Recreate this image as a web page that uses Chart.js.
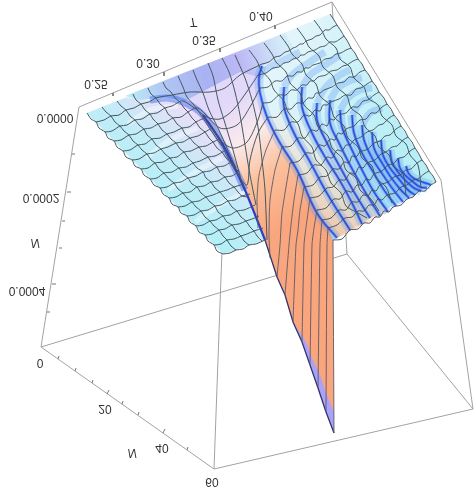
<!DOCTYPE html>
<html lang="en">
  <head>
    <meta charset="UTF-8" />
    <title>Surface plot</title>
    <script src="https://cdn.jsdelivr.net/npm/chart.js"></script>
    <style>
      html, body { margin: 0; padding: 0; background: #fff; }
      canvas { display: block; filter: blur(0.45px); }
    </style>
  </head>
  <body>
    <canvas id="chart" width="474" height="490"></canvas>
    <script>
      const boxEdges = [
        [332, 2, 347, 254], [222, 250, 214, 469], [41, 347, 347, 254], [347, 254, 473, 409],
        [214, 469, 473, 409], [441, 180, 473, 409], [79, 107, 332, 2], [332, 2, 441, 180],
        [79, 107, 41, 347], [41, 347, 214, 469],
      ];
      const axisTicks = [
        [58, 359, 59, 356], [75, 371, 76, 368], [92, 383, 93, 380], [107, 394, 109, 390], [122, 404, 123, 401],
        [138, 415, 139, 412], [163, 433, 165, 429], [187, 450, 188, 447],
        [72, 154, 75, 154], [67, 192, 71, 192], [62, 221, 65, 221], [59, 248, 62, 248], [52, 284, 56, 284], [47, 312, 50, 312],
        [113, 93, 113, 96], [164, 72, 164, 76], [220, 48, 220, 52], [275, 25, 275, 29],
      ];

      const labelTexts = ["0.25", "0.30", "0.35", "0.40", "T", "0.0000", "0.0002", "0.0004", "N", "0", "20", "40", "60", "N"];
      const labelXs = [96, 148, 204, 261, 193, 55, 41, 27, 35, 40, 105, 162, 212, 132];
      const labelYs = [83, 62, 39, 15, 21, 117, 197, 290, 242, 362, 408, 447, 481, 452];

      const surfaceOutline = [87, 113, 330, 14, 436, 182, 345, 232, 333, 240, 265, 240, 223, 254];
      const leftPlate = [87, 113, 223, 254, 265, 240, 245, 190, 222, 143, 203, 115, 183, 102, 150, 100, 125, 98];
      const backBand = [125, 96, 285, 33, 295, 50, 262, 66, 258, 76, 250, 95, 235, 110, 215, 115, 195, 103, 165, 97, 140, 100];
      const wall = [183, 102, 203, 115, 222, 143, 245, 190, 265, 240, 277, 277, 285, 295, 293, 322, 302, 342, 310, 365, 318, 388, 326, 412, 334, 433, 333, 240, 328, 228, 317, 213, 297, 170, 280, 143, 267, 117, 260, 93, 259, 77, 240, 72, 215, 85];
      const wallFoot = [293, 322, 302, 342, 310, 365, 318, 388, 326, 412, 334, 433, 334, 412, 326, 393, 320, 375, 312, 358, 306, 342];
      const creamPatch = [280, 143, 297, 170, 317, 213, 337, 238, 388, 212, 364, 187, 350, 165, 339, 143, 330, 123, 317, 120, 284, 107, 267, 117];
      const plateGlints = [
        [128, 124, 150, 110, 178, 106],
        [146, 158, 170, 140, 198, 128],
        [168, 190, 195, 172, 222, 158],
        [195, 222, 220, 205, 245, 192],
      ];

      const cliffLine = [150, 100, 167, 98, 183, 102, 203, 115, 222, 143, 245, 190, 265, 240, 277, 277, 285, 295, 293, 322, 302, 342, 310, 365, 318, 388, 326, 412, 334, 433];

      const crests = [
        [262, 66, 259, 77, 260, 93, 267, 117, 280, 143, 297, 170, 317, 213, 337, 238],
        [284, 87, 284, 107, 294, 133, 309, 160, 328, 195, 350, 230],
        [302, 87, 302, 107, 312, 133, 325, 157, 340, 181, 352, 203, 362, 224],
        [317, 103, 317, 120, 327, 143, 340, 167, 354, 192, 370, 218],
        [330, 100, 330, 123, 339, 143, 350, 165, 364, 190, 380, 216],
        [340, 110, 342, 127, 352, 150, 362, 170, 374, 192, 388, 212],
        [352, 115, 354, 133, 362, 153, 372, 170, 384, 190, 396, 206],
        [362, 125, 364, 140, 372, 158, 381, 172, 392, 188, 403, 202],
        [372, 132, 374, 148, 382, 163, 390, 176, 400, 189, 409, 198],
        [381, 140, 383, 155, 390, 168, 398, 178, 408, 190, 415, 195],
        [390, 150, 392, 162, 398, 172, 405, 180, 414, 188, 421, 191],
        [398, 158, 400, 168, 406, 176, 412, 181, 420, 187, 427, 188],
        [406, 166, 409, 174, 415, 179, 431, 185],
      ];
      const crestCurls = [
        [259, 77, 265, 70, 280, 62, 300, 52],
        [284, 87, 292, 75, 308, 63, 325, 52],
        [302, 87, 310, 75, 325, 65, 340, 55],
        [317, 103, 325, 88, 340, 75, 350, 70],
        [330, 100, 338, 88, 352, 80, 362, 78],
        [340, 110, 348, 98, 360, 90, 372, 88],
        [352, 115, 360, 103, 372, 98],
        [362, 125, 370, 113, 382, 108],
      ];

      // lines of constant N, from the left edge up to the cliff
      const sizeLinesLeft = [
        [96, 122, 104, 120, 111, 116, 119, 115, 126, 110, 134, 108, 141, 104, 149, 102, 156, 98, 172, 95, 190, 92, 210, 92, 225, 88, 240, 75, 262, 64],
        [105, 132, 112, 131, 120, 126, 127, 125, 135, 120, 142, 119, 150, 114, 157, 113, 165, 108, 172, 106, 183, 101, 207, 117, 220, 119, 233, 110, 248, 90, 258, 75],
        [114, 141, 121, 140, 129, 135, 136, 134, 144, 129, 151, 128, 158, 124, 166, 122, 173, 118, 181, 117, 188, 112, 198, 108, 220, 128, 237, 125, 250, 107, 260, 88],
        [123, 151, 130, 150, 138, 145, 145, 144, 152, 139, 160, 138, 167, 134, 174, 132, 182, 128, 189, 127, 196, 122, 206, 119, 220, 140, 233, 148, 247, 142, 258, 120, 263, 103],
        [132, 160, 139, 159, 147, 154, 154, 153, 161, 149, 168, 147, 176, 143, 183, 142, 190, 138, 198, 136, 205, 132, 213, 129, 228, 158, 238, 175, 247, 185, 250, 160, 258, 133, 268, 117],
        [141, 169, 148, 168, 155, 163, 163, 162, 170, 158, 177, 157, 184, 152, 191, 151, 199, 147, 206, 146, 213, 142, 220, 139],
        [150, 179, 157, 178, 164, 173, 172, 172, 179, 168, 186, 167, 193, 163, 200, 161, 208, 157, 215, 156, 226, 150],
        [160, 188, 167, 187, 174, 183, 181, 182, 188, 178, 196, 176, 203, 172, 210, 171, 217, 167, 224, 166, 231, 162],
        [169, 198, 176, 197, 183, 193, 190, 192, 197, 187, 204, 186, 211, 182, 218, 181, 225, 177, 232, 176, 238, 172],
        [178, 207, 185, 206, 192, 202, 199, 201, 206, 197, 213, 195, 220, 192, 227, 190, 234, 187, 244, 184],
        [187, 216, 194, 215, 201, 211, 208, 210, 215, 206, 221, 205, 228, 201, 235, 200, 242, 196, 250, 194],
        [196, 226, 203, 225, 210, 221, 216, 220, 223, 216, 230, 215, 237, 211, 244, 210, 255, 205],
        [205, 235, 212, 234, 219, 230, 225, 229, 232, 225, 239, 224, 246, 221, 252, 219, 259, 216],
        [214, 245, 221, 244, 227, 240, 234, 239, 241, 236, 247, 234, 254, 231, 263, 228],
        [223, 254, 230, 253, 236, 250, 243, 249, 249, 245, 256, 244, 265, 240],
      ];
      // where the deeper lines climb the wall, bottom of the drop up to the first crest
      const sizeLinesWall = [
        [258, 228, 257, 200, 259, 175, 266, 150, 275, 130],
        [270, 258, 269, 235, 270, 200, 275, 170, 282, 147],
        [277, 277, 280, 245, 282, 213, 290, 163],
        [285, 295, 289, 245, 291, 225, 294, 200, 298, 175],
        [293, 322, 296, 245, 298, 230, 300, 210, 304, 187],
        [302, 342, 304, 245, 305, 235, 307, 220, 310, 198],
        [310, 365, 312, 245, 314, 228, 317, 210],
        [318, 388, 320, 245, 322, 220],
        [326, 412, 327, 245, 328, 228],
        [334, 433, 333, 240],
      ];
      // the same lines from the first crest out to the right edge
      const sizeLinesRight = [
        [262, 64, 269, 62, 275, 57, 280, 56, 285, 52, 289, 51, 293, 48, 296, 47, 300, 44, 303, 44, 306, 41, 312, 39, 316, 36, 320, 35, 325, 30, 329, 30, 333, 27, 337, 25],
        [258, 75, 266, 73, 273, 68, 279, 67, 284, 63, 289, 62, 293, 59, 298, 58, 301, 55, 304, 55, 308, 52, 315, 50, 320, 47, 325, 46, 330, 42, 335, 42, 340, 39, 344, 36],
        [260, 88, 268, 87, 275, 81, 282, 81, 287, 76, 293, 76, 297, 72, 302, 72, 305, 68, 309, 68, 313, 65, 320, 63, 325, 59, 331, 58, 336, 54, 341, 53, 346, 50, 351, 48],
        [263, 103, 271, 102, 279, 95, 286, 95, 291, 90, 297, 90, 302, 85, 307, 85, 310, 81, 314, 81, 318, 77, 326, 75, 331, 71, 337, 70, 343, 66, 347, 65, 353, 61, 358, 59],
        [268, 117, 277, 117, 284, 109, 291, 109, 297, 103, 303, 103, 308, 98, 313, 98, 316, 93, 320, 93, 324, 90, 332, 87, 338, 83, 344, 82, 349, 77, 354, 77, 360, 72, 365, 70],
        [275, 130, 284, 130, 291, 122, 298, 122, 304, 115, 310, 116, 315, 110, 320, 111, 323, 105, 327, 105, 331, 102, 339, 99, 345, 95, 351, 95, 356, 89, 361, 88, 367, 84, 372, 81],
        [282, 147, 291, 146, 298, 138, 305, 138, 311, 130, 317, 131, 322, 124, 327, 126, 330, 119, 334, 120, 338, 115, 346, 113, 352, 107, 358, 107, 363, 101, 368, 100, 374, 95, 379, 92],
        [290, 163, 299, 161, 306, 153, 313, 153, 319, 145, 325, 146, 330, 139, 335, 140, 338, 133, 342, 134, 346, 129, 354, 126, 360, 120, 366, 119, 371, 113, 376, 113, 382, 107, 387, 104],
        [298, 175, 307, 173, 314, 165, 321, 165, 327, 157, 332, 158, 337, 150, 342, 151, 346, 145, 350, 145, 354, 140, 361, 137, 367, 132, 373, 130, 379, 125, 383, 124, 389, 118, 394, 115],
        [304, 187, 313, 185, 320, 177, 327, 176, 333, 169, 339, 169, 344, 162, 349, 163, 352, 156, 356, 157, 360, 152, 368, 149, 374, 143, 380, 141, 385, 136, 390, 135, 396, 129, 401, 126],
        [310, 198, 319, 196, 327, 188, 333, 187, 339, 180, 345, 180, 350, 173, 355, 174, 359, 167, 363, 168, 367, 163, 375, 160, 381, 154, 386, 152, 392, 147, 397, 146, 403, 140, 408, 137],
        [317, 210, 326, 208, 334, 199, 340, 199, 346, 191, 352, 192, 357, 185, 362, 185, 366, 179, 370, 180, 374, 174, 382, 171, 388, 165, 393, 164, 399, 158, 404, 157, 410, 151, 415, 148],
        [322, 220, 331, 218, 339, 210, 346, 210, 352, 202, 358, 202, 363, 195, 368, 196, 372, 190, 376, 191, 380, 185, 388, 182, 394, 177, 400, 175, 406, 170, 411, 169, 417, 163, 422, 160],
        [328, 228, 337, 225, 345, 218, 352, 217, 358, 211, 364, 211, 369, 205, 374, 205, 378, 199, 382, 200, 387, 195, 395, 193, 401, 187, 407, 185, 413, 180, 418, 179, 424, 174, 429, 171],
        [333, 240, 342, 239, 350, 230, 358, 229, 364, 223, 370, 223, 375, 217, 380, 217, 384, 211, 389, 212, 393, 207, 401, 205, 407, 199, 413, 197, 419, 191, 425, 191, 431, 185, 436, 182],
      ];
      // lines of constant T, running away from the back edge
      const tempLines = [
        [87, 113, 91, 119, 96, 122, 99, 128, 105, 132, 108, 138, 114, 141, 117, 147, 123, 151, 126, 157, 132, 160, 135, 166, 141, 169, 144, 175, 150, 179, 154, 185, 160, 188, 163, 194, 169, 198, 172, 204, 178, 207, 181, 213, 187, 216, 190, 222, 196, 226, 199, 232, 205, 235, 208, 241, 214, 245, 217, 251, 223, 254],
        [102, 107, 106, 112, 111, 116, 115, 122, 120, 126, 124, 131, 129, 135, 133, 141, 138, 145, 142, 150, 147, 154, 151, 160, 155, 163, 159, 169, 164, 173, 169, 179, 174, 183, 178, 189, 183, 193, 187, 198, 192, 202, 196, 207, 201, 211, 205, 217, 210, 221, 214, 226, 219, 230, 223, 236, 227, 240, 231, 246, 236, 250],
        [117, 101, 121, 106, 126, 110, 130, 116, 135, 120, 139, 125, 144, 129, 147, 135, 152, 139, 156, 145, 161, 149, 165, 154, 170, 158, 174, 164, 179, 168, 183, 174, 188, 178, 192, 184, 197, 187, 201, 193, 206, 197, 210, 202, 215, 206, 218, 212, 223, 216, 227, 222, 232, 225, 236, 231, 241, 236, 244, 241, 249, 245],
        [133, 94, 136, 100, 141, 104, 145, 110, 150, 114, 153, 119, 158, 124, 162, 130, 167, 134, 171, 139, 176, 143, 180, 149, 184, 152, 188, 158, 193, 163, 197, 168, 203, 172, 206, 178, 211, 182, 215, 188, 220, 192, 224, 197, 228, 201, 232, 207, 237, 211, 241, 217, 246, 221, 250, 227, 254, 231, 257, 236, 262, 241],
        [148, 88, 151, 94, 156, 98, 160, 104, 165, 108, 168, 114, 173, 118, 177, 124, 182, 128, 185, 134, 190, 138, 194, 143, 199, 147, 203, 153, 208, 157, 212, 163, 217, 167, 220, 173, 225, 177, 229, 183, 234, 187, 238, 192, 242, 196, 248, 197],
        [163, 82, 166, 88, 171, 92, 175, 98, 180, 102, 184, 108, 188, 112, 192, 118, 196, 122, 200, 128, 205, 132, 209, 138, 213, 142, 217, 148, 222, 152, 226, 158, 231, 162, 235, 168, 239, 172],
        [178, 76, 183, 87, 187, 97, 194, 105, 203, 118, 212, 132, 222, 146],
        [193, 70, 197, 80, 203, 93, 209, 110, 218, 128, 226, 146, 236, 168],
        [208, 63, 213, 76, 218, 100, 224, 120, 233, 150, 243, 187],
        [222, 58, 229, 72, 235, 92, 240, 115, 245, 145, 250, 175, 256, 205],
        [235, 55, 245, 78, 252, 100, 258, 127, 262, 160, 265, 190, 267, 240],
        [249, 50, 257, 61, 261, 70, 270, 80, 274, 90, 284, 101, 288, 112, 298, 124, 302, 136, 312, 147, 316, 160, 326, 170, 331, 183, 341, 193, 346, 206, 356, 212, 367, 218],
        [264, 43, 272, 54, 276, 62, 286, 72, 290, 83, 300, 93, 304, 105, 314, 115, 318, 127, 328, 136, 332, 148, 342, 158, 346, 170, 356, 178, 360, 190, 370, 198, 379, 211],
        [280, 35, 288, 46, 292, 54, 302, 64, 306, 75, 316, 84, 320, 96, 330, 105, 334, 117, 344, 126, 348, 138, 358, 147, 362, 158, 372, 166, 376, 178, 386, 187, 392, 203],
        [297, 28, 305, 39, 309, 47, 319, 56, 323, 67, 333, 76, 337, 87, 347, 96, 351, 108, 361, 116, 365, 127, 375, 136, 379, 147, 389, 155, 393, 166, 403, 174, 406, 195],
        [314, 20, 322, 31, 326, 39, 336, 48, 340, 59, 350, 67, 354, 78, 364, 87, 368, 98, 378, 105, 382, 116, 392, 125, 396, 136, 406, 144, 410, 155, 418, 165, 421, 188],
        [330, 14, 334, 20, 337, 25, 341, 31, 344, 36, 348, 42, 351, 48, 355, 53, 358, 59, 362, 64, 365, 70, 369, 75, 372, 81, 376, 86, 379, 92, 384, 98, 387, 104, 391, 109, 394, 115, 398, 120, 401, 126, 405, 131, 408, 137, 412, 142, 415, 148, 419, 154, 422, 160, 426, 165, 429, 171, 433, 176, 436, 182],
      ];

      const ctx = document.getElementById("chart").getContext("2d");

      function gradient(x0, y0, x1, y1, stops) {
        const g = ctx.createLinearGradient(x0, y0, x1, y1);
        stops.forEach(([at, color]) => g.addColorStop(at, color));
        return g;
      }

      function toPoints(flat) {
        const points = [];
        for (let i = 0; i < flat.length; i += 2) {
          points.push({ x: flat[i], y: flat[i + 1] });
        }
        return points;
      }

      function area(flat, color) {
        return {
          data: toPoints(flat),
          showLine: true,
          fill: "shape",
          backgroundColor: color,
          borderWidth: 0,
          borderColor: "transparent",
        };
      }

      function stroke(flat, color, width, tension = 0) {
        return {
          data: toPoints(flat),
          showLine: true,
          fill: false,
          borderColor: color,
          borderWidth: width,
          tension: tension,
        };
      }

      // listed in paint order, bottom first
      const layers = [];
      boxEdges.forEach((e) => layers.push(stroke(e, "#a2a2a2", 1)));
      axisTicks.forEach((e) => layers.push(stroke(e, "#777777", 1)));

      layers.push(area(surfaceOutline, gradient(260, 60, 400, 130, [[0, "#e8f6fb"], [0.5, "#d0f2f8"], [1, "#b8eef5"]])));
      layers.push(area(leftPlate, gradient(150, 210, 215, 125, [[0, "#b0f0f7"], [0.5, "#c2ecf8"], [1, "#eedcf8"]])));
      plateGlints.forEach((g) => layers.push(stroke(g, "rgba(255,255,255,0.4)", 5, 0.4)));
      layers.push(area(backBand, gradient(125, 100, 285, 50, [[0, "#bdeff6"], [0.25, "#b0c6f4"], [0.5, "#a8b2f2"], [0.72, "#bcb8f5"], [1, "#d4ecf9"]])));
      layers.push(area(creamPatch, gradient(300, 215, 345, 130, [[0, "rgba(250,190,150,0.8)"], [0.6, "rgba(252,225,205,0.5)"], [1, "rgba(252,235,225,0)"]])));
      layers.push(area(wall, gradient(225, 105, 300, 215, [[0, "#e2d8fa"], [0.3, "#fbeaec"], [0.6, "#fbc09c"], [1, "#f9a67e"]])));
      layers.push(area(wallFoot, "#a9a2f8"));

      crestCurls.forEach((c) => layers.push(stroke(c, "rgba(90,150,245,0.3)", 7, 0.4)));
      crests.forEach((c) => layers.push(stroke(c, "rgba(90,150,245,0.28)", 9, 0.4)));
      crests.forEach((c) => layers.push(stroke(c, "rgba(40,90,235,0.5)", 3, 0.4)));
      crests.forEach((c) => layers.push(stroke(c, "#2a48d8", 1.2, 0.4)));
      layers.push(stroke(cliffLine.slice(0, 12), "rgba(70,110,240,0.5)", 7, 0.4));
      layers.push(stroke(cliffLine.slice(6, 14), "#2c3cc8", 2.2, 0.2));
      layers.push(stroke(cliffLine.slice(12), "#34346e", 1.3));

      const meshColor = "#445860";
      sizeLinesLeft.forEach((l) => layers.push(stroke(l, meshColor, 1, 0.3)));
      sizeLinesWall.forEach((l) => layers.push(stroke(l, "#5a5a66", 0.9, 0.2)));
      sizeLinesRight.forEach((l) => layers.push(stroke(l, "#3e4a58", 0.9, 0.3)));
      tempLines.forEach((l) => layers.push(stroke(l, meshColor, 1, 0.3)));

      // mirrored tick labels, placed through the same scales as the marks
      const flippedLabels = {
        id: "flippedLabels",
        afterDatasetsDraw(chart) {
          const c = chart.ctx;
          labelTexts.forEach((text, i) => {
            c.save();
            c.translate(chart.scales.x.getPixelForValue(labelXs[i]), chart.scales.y.getPixelForValue(labelYs[i]));
            c.scale(1, -1);
            c.font = (text === "N" || text === "T" ? "italic " : "") + "12px 'Liberation Sans', Arial, sans-serif";
            c.fillStyle = "#333333";
            c.textAlign = "center";
            c.textBaseline = "middle";
            c.fillText(text, 0, 0);
            c.restore();
          });
        },
      };

      new Chart(ctx, {
        type: "scatter",
        data: { datasets: layers.reverse() },
        options: {
          responsive: false,
          animation: false,
          layout: { padding: 0 },
          elements: { point: { radius: 0 } },
          plugins: { legend: { display: false }, tooltip: { enabled: false }, title: { display: false } },
          scales: {
            x: { type: "linear", min: 0, max: 474, display: false },
            y: { type: "linear", min: 0, max: 490, reverse: true, display: false },
          },
        },
        plugins: [flippedLabels],
      });
    </script>
  </body>
</html>
